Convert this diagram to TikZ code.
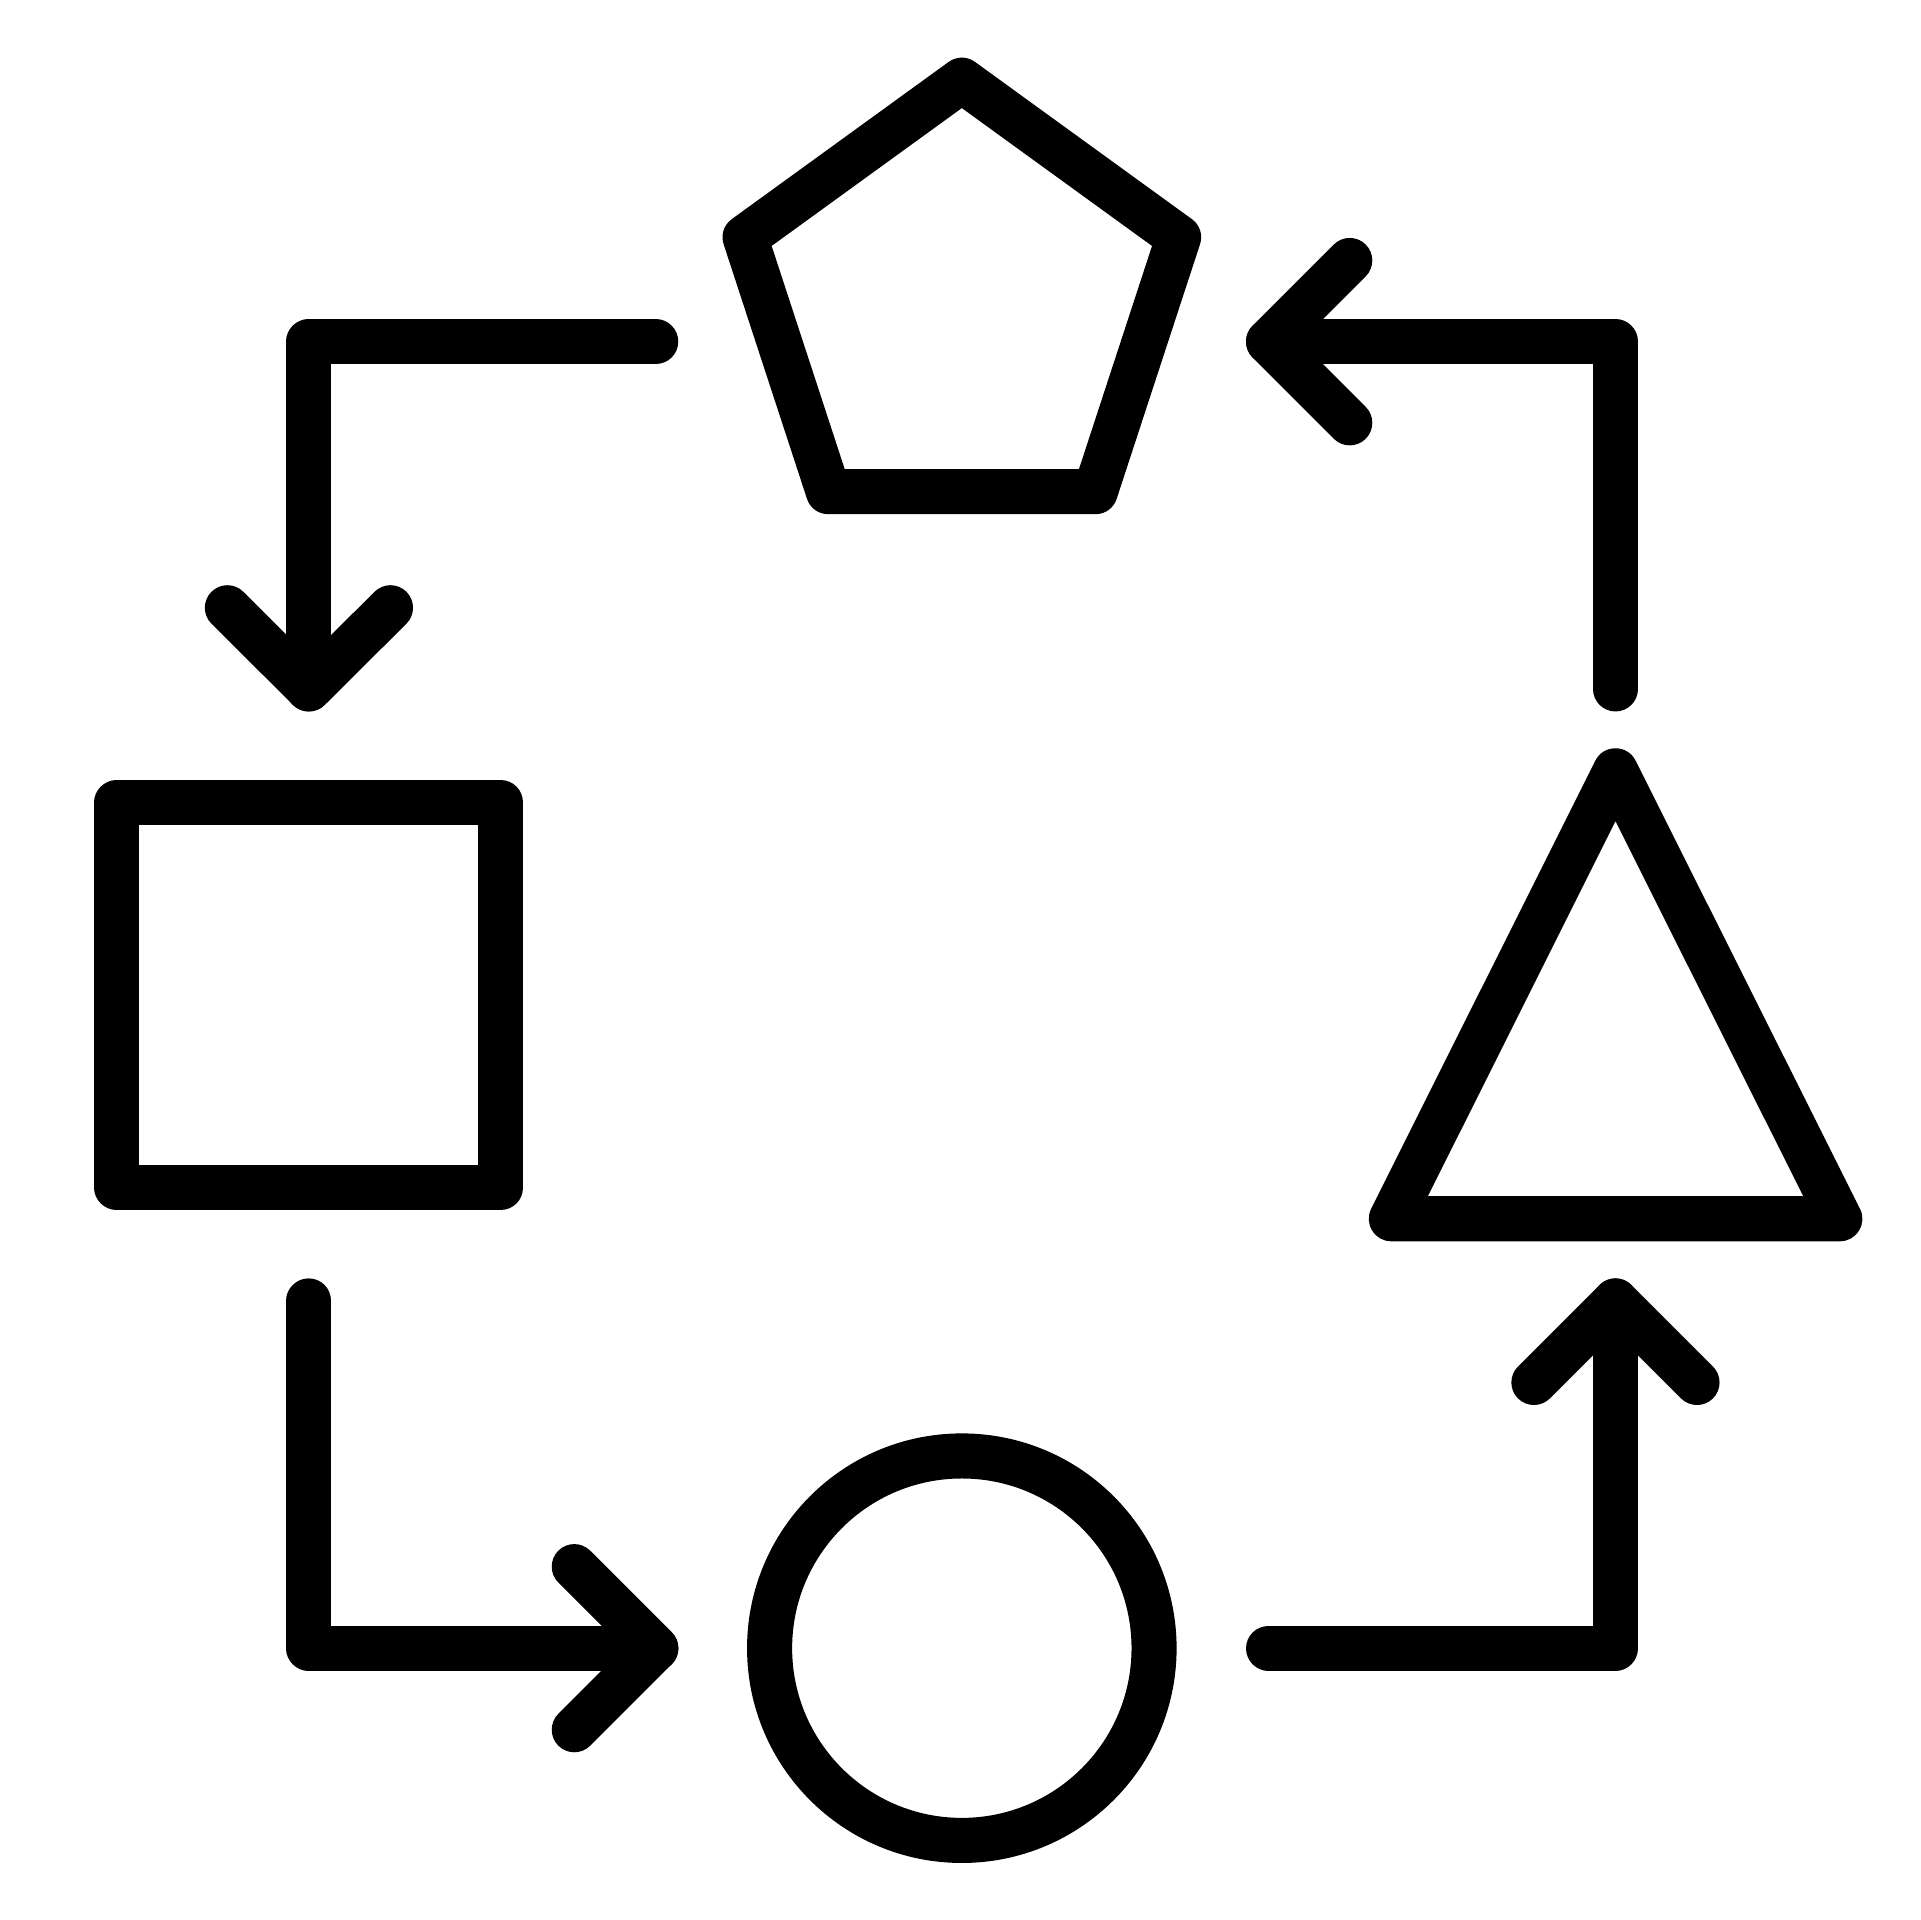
\documentclass[tikz,border=0pt]{standalone}
\usepackage{tikz}
\usetikzlibrary{positioning}
\tikzset{
	myshape/.style={draw=black,line width=0.368cm,line join=round,line cap=round},
	myarrow/.style={draw=black,line width=0.368cm,line join=round,line cap=round},
	mytip/.style={draw=black,line width=0.368cm,line join=round,line cap=round}
}

\begin{document}
\begin{tikzpicture}[x=0.01cm,y=-0.01cm]
		\useasboundingbox (0,0) rectangle (1568,1568);
		% pentagon
		\coordinate (pentop) at (785.5,65.5);
		\coordinate (penright) at (962.5,193.8);
		\coordinate (penbr) at (894.5,401.5);
		\coordinate (penbl) at (676.5,401.5);
		\coordinate (penleft) at (608.5,193.8);
		\draw[myshape] (pentop) -- (penright) -- (penbr) -- (penbl) -- (penleft) -- cycle;
		% triangle
		\coordinate (tritop) at (1319.3,629.5);
		\coordinate (triright) at (1502.5,995.3);
		\coordinate (trileft) at (1136.3,995.3);
		\draw[myshape] (tritop) -- (triright) -- (trileft) -- cycle;
		% square
		\draw[myshape] (95.5,655.5) rectangle (409,969.8);
		% circle
		\draw[myshape] (785.5,1346) circle (157);
		% top left arrow
		\coordinate (tlstart) at (535.5,279);
		\coordinate (tlcorner) at (252.3,279);
		\coordinate (tltip) at (252.3,562.6);
		\draw[myarrow] (tlstart) -- (tlcorner) -- (tltip);
		\draw[mytip] (tltip) ++(-66.6,-66.3) -- (tltip) -- ++(66.6,-66.3);
		% top right arrow
		\coordinate (trstart) at (1319.3,562.6);
		\coordinate (trcorner) at (1319.3,279);
		\coordinate (trtip) at (1036,279);
		\draw[myarrow] (trstart) -- (trcorner) -- (trtip);
		\draw[mytip] (trtip) ++(66.3,-66.3) -- (trtip) -- ++(66.3,66.3);
		% bottom right arrow
		\coordinate (brstart) at (1036,1346);
		\coordinate (brcorner) at (1319.3,1346);
		\coordinate (brtip) at (1319.3,1062.4);
		\draw[myarrow] (brstart) -- (brcorner) -- (brtip);
		\draw[mytip] (brtip) ++(-66.6,66.6) -- (brtip) -- ++(66.6,66.6);
		% bottom left arrow
		\coordinate (blstart) at (252.3,1062.4);
		\coordinate (blcorner) at (252.3,1346);
		\coordinate (bltip) at (535.6,1346);
		\draw[myarrow] (blstart) -- (blcorner) -- (bltip);
		\draw[mytip] (bltip) ++(-66.6,-66.6) -- (bltip) -- ++(-66.6,66.6);
	\end{tikzpicture}
\end{document}
